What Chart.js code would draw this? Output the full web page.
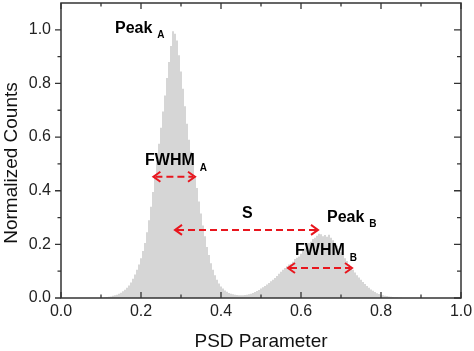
<!DOCTYPE html>
<html>
<head>
<meta charset="utf-8">
<script src="https://cdn.jsdelivr.net/npm/chart.js@4"></script>
<style>
  html, body { margin: 0; padding: 0; background: #fff; }
  #wrap { width: 474px; height: 351px; }
</style>
</head>
<body>
<div id="wrap"><canvas id="chart" width="474" height="351"></canvas></div>
<script>
// histogram bin centres (PSD parameter) and normalized counts
const binCenters = [
  0.100, 0.105, 0.110, 0.115, 0.120, 0.125, 0.130, 0.135, 0.140, 0.145,
  0.150, 0.155, 0.160, 0.165, 0.170, 0.175, 0.180, 0.185, 0.190, 0.195,
  0.200, 0.205, 0.210, 0.215, 0.220, 0.225, 0.230, 0.235, 0.240, 0.245,
  0.250, 0.255, 0.260, 0.265, 0.270, 0.275, 0.280, 0.285, 0.290, 0.295,
  0.300, 0.305, 0.310, 0.315, 0.320, 0.325, 0.330, 0.335, 0.340, 0.345,
  0.350, 0.355, 0.360, 0.365, 0.370, 0.375, 0.380, 0.385, 0.390, 0.395,
  0.400, 0.405, 0.410, 0.415, 0.420, 0.425, 0.430, 0.435, 0.440, 0.445,
  0.450, 0.455, 0.460, 0.465, 0.470, 0.475, 0.480, 0.485, 0.490, 0.495,
  0.500, 0.505, 0.510, 0.515, 0.520, 0.525, 0.530, 0.535, 0.540, 0.545,
  0.550, 0.555, 0.560, 0.565, 0.570, 0.575, 0.580, 0.585, 0.590, 0.595,
  0.600, 0.605, 0.610, 0.615, 0.620, 0.625, 0.630, 0.635, 0.640, 0.645,
  0.650, 0.655, 0.660, 0.665, 0.670, 0.675, 0.680, 0.685, 0.690, 0.695,
  0.700, 0.705, 0.710, 0.715, 0.720, 0.725, 0.730, 0.735, 0.740, 0.745,
  0.750, 0.755, 0.760, 0.765, 0.770, 0.775, 0.780, 0.785, 0.790, 0.795,
  0.800, 0.805, 0.810, 0.815, 0.820, 0.825, 0.830, 0.835, 0.840, 0.845,
  0.850, 0.855, 0.860, 0.865, 0.870
];
const counts = [
  0.002, 0.002, 0.003, 0.004, 0.005, 0.006, 0.008, 0.010, 0.012, 0.016,
  0.020, 0.025, 0.031, 0.038, 0.047, 0.058, 0.072, 0.088, 0.105, 0.125,
  0.148, 0.175, 0.205, 0.245, 0.290, 0.340, 0.395, 0.455, 0.515, 0.575,
  0.635, 0.695, 0.755, 0.820, 0.880, 0.940, 0.995, 0.985, 0.960, 0.905,
  0.845, 0.780, 0.715, 0.650, 0.590, 0.545, 0.500, 0.455, 0.410, 0.360,
  0.315, 0.270, 0.230, 0.190, 0.160, 0.130, 0.105, 0.085, 0.068, 0.054,
  0.043, 0.035, 0.028, 0.023, 0.019, 0.016, 0.014, 0.012, 0.011, 0.010,
  0.010, 0.010, 0.011, 0.012, 0.014, 0.016, 0.019, 0.022, 0.026, 0.030,
  0.035, 0.040, 0.045, 0.050, 0.056, 0.062, 0.068, 0.075, 0.082, 0.090,
  0.098, 0.105, 0.112, 0.118, 0.125, 0.128, 0.135, 0.145, 0.150, 0.155,
  0.165, 0.175, 0.185, 0.195, 0.205, 0.210, 0.220, 0.225, 0.232, 0.240,
  0.238, 0.230, 0.235, 0.228, 0.236, 0.225, 0.215, 0.205, 0.195, 0.185,
  0.172, 0.160, 0.148, 0.138, 0.125, 0.115, 0.105, 0.095, 0.085, 0.076,
  0.068, 0.060, 0.052, 0.045, 0.038, 0.032, 0.027, 0.022, 0.018, 0.015,
  0.012, 0.010, 0.008, 0.007, 0.006, 0.005, 0.004, 0.003, 0.003, 0.002,
  0.002, 0.001, 0.001, 0.001, 0.001
];
const xTicks = [0.0, 0.2, 0.4, 0.6, 0.8, 1.0];
const yTicks = [0.0, 0.2, 0.4, 0.6, 0.8, 1.0];

// text labels: [text, subscript, left x, centre y] in data units
const labels = [
  ['Peak', 'A', 0.135, 1.006],
  ['FWHM', 'A', 0.21, 0.511],
  ['S', '', 0.4525, 0.313],
  ['Peak', 'B', 0.665, 0.300],
  ['FWHM', 'B', 0.585, 0.175]
];
// double arrows: [x from, x to, y]
const arrows = [
  [0.231, 0.335, 0.452],
  [0.285, 0.6425, 0.254],
  [0.5675, 0.7275, 0.112]
];

const AXIS = '#333333';
const RED = '#e8161e';

const framePlugin = {
  id: 'frame',
  afterDraw(chart) {
    const { ctx, chartArea: a, scales } = chart;
    const xs = scales.x, ys = scales.y;
    ctx.save();
    // annotations
    ctx.strokeStyle = RED;
    ctx.lineWidth = 2;
    arrows.forEach(([x0, x1, y]) => {
      const p0 = xs.getPixelForValue(x0), p1 = xs.getPixelForValue(x1);
      const py = ys.getPixelForValue(y);
      ctx.setLineDash([7, 4]);
      ctx.beginPath();
      ctx.moveTo(p0 + 2, py);
      ctx.lineTo(p1 - 2, py);
      ctx.stroke();
      ctx.setLineDash([]);
      ctx.beginPath();
      ctx.moveTo(p0 + 7, py - 5); ctx.lineTo(p0, py); ctx.lineTo(p0 + 7, py + 5);
      ctx.moveTo(p1 - 7, py - 5); ctx.lineTo(p1, py); ctx.lineTo(p1 - 7, py + 5);
      ctx.stroke();
    });
    ctx.fillStyle = '#000';
    ctx.textBaseline = 'middle';
    ctx.textAlign = 'left';
    labels.forEach(([t, sub, x, y]) => {
      const px = xs.getPixelForValue(x), py = ys.getPixelForValue(y);
      ctx.font = 'bold 16px "Liberation Sans", Arial, sans-serif';
      ctx.fillText(t, px, py);
      if (sub) {
        const w = ctx.measureText(t).width;
        ctx.font = 'bold 10px "Liberation Sans", Arial, sans-serif';
        ctx.fillText(sub, px + w + 5, py + 7);
      }
    });

    // frame and ticks
    ctx.strokeStyle = AXIS;
    ctx.lineWidth = 1.5;
    ctx.strokeRect(a.left, a.top, a.right - a.left, a.bottom - a.top);
    ctx.lineWidth = 1.3;
    ctx.beginPath();
    for (let i = 0; i <= 10; i++) {
      const v = i / 10;
      const major = i % 2 === 0;
      const px = xs.getPixelForValue(v);
      const len = major ? 6 : 3.5;
      ctx.moveTo(px, a.bottom); ctx.lineTo(px, a.bottom - len);
      ctx.moveTo(px, a.top); ctx.lineTo(px, a.top + len);
      const py = ys.getPixelForValue(v);
      ctx.moveTo(a.left, py); ctx.lineTo(a.left - len, py);
      ctx.moveTo(a.right, py); ctx.lineTo(a.right - (major ? 7 : 4), py);
    }
    ctx.stroke();

    // axis titles
    ctx.fillStyle = '#111';
    ctx.font = '19px "Liberation Sans", Arial, sans-serif';
    ctx.textAlign = 'center';
    ctx.textBaseline = 'alphabetic';
    ctx.fillText('PSD Parameter', (a.left + a.right) / 2, 347);
    ctx.translate(17, 163);
    ctx.rotate(-Math.PI / 2);
    ctx.fillText('Normalized Counts', 0, 0);
    ctx.restore();
  }
};

new Chart(document.getElementById('chart'), {
  type: 'bar',
  data: {
    datasets: [{
      data: binCenters.map((x, i) => ({ x: x, y: counts[i] })),
      backgroundColor: '#cfcfcf',
      borderWidth: 0,
      barPercentage: 0.85,
      categoryPercentage: 1.0
    }]
  },
  options: {
    responsive: false,
    animation: false,
    layout: { padding: { left: 0, right: 13, top: 3, bottom: 0 } },
    plugins: { legend: { display: false }, tooltip: { enabled: false } },
    scales: {
      x: {
        type: 'linear',
        min: 0, max: 1,
        offset: false,
        grid: { display: false },
        border: { display: false },
        afterFit(scale) {
          scale.height = 53;
          scale.paddingLeft = 0; scale.paddingRight = 0;
        },
        afterBuildTicks(scale) { scale.ticks = xTicks.map(v => ({ value: v })); },
        ticks: {
          color: '#222',
          font: { family: '"Liberation Sans", Arial, sans-serif', size: 16 },
          padding: -4,
          maxRotation: 0,
          callback: v => v.toFixed(1)
        }
      },
      y: {
        min: 0, max: 1.1,
        grid: { display: false },
        border: { display: false },
        afterFit(scale) {
          scale.width = 61;
          scale.paddingTop = 0; scale.paddingBottom = 0;
        },
        afterBuildTicks(scale) { scale.ticks = yTicks.map(v => ({ value: v })); },
        ticks: {
          color: '#222',
          font: { family: '"Liberation Sans", Arial, sans-serif', size: 16 },
          padding: 2,
          callback: v => v.toFixed(1)
        }
      }
    }
  },
  plugins: [framePlugin]
});
</script>
</body>
</html>
